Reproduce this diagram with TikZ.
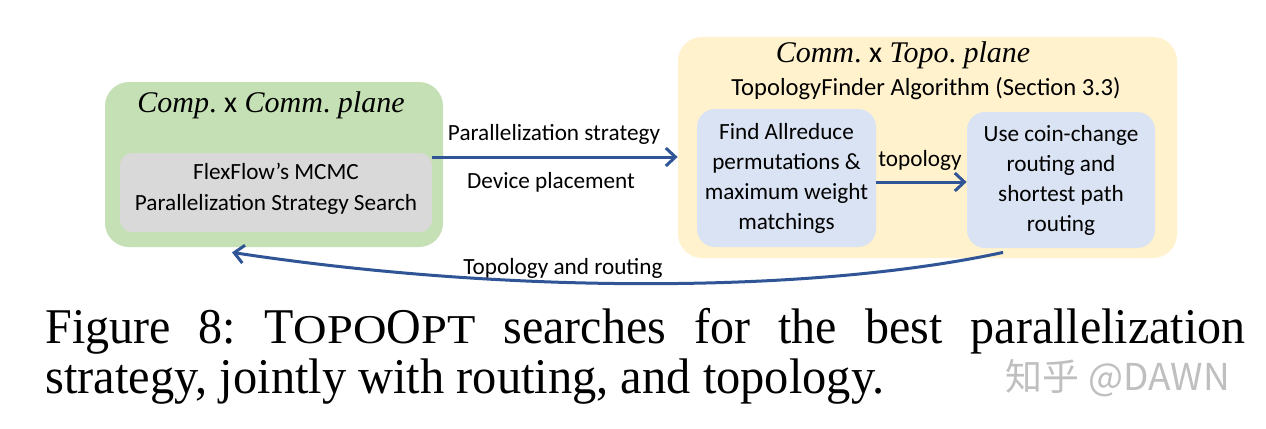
\documentclass[tikz,border=0pt]{standalone}
\usepackage{fontspec}
\setmainfont{Liberation Serif}
\newfontfamily\calib{Carlito}
\newfontfamily\cjkfont{Noto Sans CJK SC}
\usetikzlibrary{arrows.meta,calc}
\definecolor{greenbg}{HTML}{C5E0B4}
\definecolor{graybg}{HTML}{D9D9D9}
\definecolor{yellowbg}{HTML}{FFF2CC}
\definecolor{bluebg}{HTML}{DAE3F3}
\definecolor{arrowblue}{HTML}{2F5597}
\newcommand\fsc[1]{\scalebox{1.18}[1]{\fontsize{20.5pt}{20.5pt}\selectfont #1}}
\frenchspacing
\begin{document}
\begin{tikzpicture}[x=0.5pt,y=-0.5pt,
  plane/.style={draw=none, rounded corners=12pt, inner sep=0pt},
  innerbox/.style={draw=none, rounded corners=9pt, inner sep=0pt, align=center,
    font=\calib\fontsize{11.6}{15}\selectfont},
  arr/.style={draw=arrowblue, line width=1.5pt, -{Straight Barb[length=4.8pt,width=9pt,line width=1.5pt]}},
  lbl/.style={font=\calib\fontsize{11.6}{14}\selectfont, inner sep=0pt},
  ttl/.style={font=\fontsize{15}{17}\selectfont, inner sep=0pt},
  captext/.style={font=\fontsize{25}{25}\selectfont, inner sep=0pt, anchor=base west}]
\useasboundingbox (0,0) rectangle (1266,429);
\fill[white] (0,0) rectangle (1266,429);
% left plane
\node[plane, fill=greenbg, minimum width=169pt, minimum height=82.5pt] (green) at (274,164.5) {};
\node[innerbox, fill=graybg, rounded corners=6pt, minimum width=156pt, minimum height=39.5pt] (gray) at (276,192.5) {};
\node[innerbox, font=\calib\fontsize{11.6}{15.8}\selectfont] (grayt) at (276,189)
  {FlexFlow’s MCMC\\Parallelization Strategy Search};
\node[ttl] (t1) at (271,105) {\itshape Comp\upshape. {\calib x} \itshape Comm\upshape. \itshape plane};
% right plane
\node[plane, fill=yellowbg, minimum width=249.5pt, minimum height=110.5pt] (yellow) at (927.5,147.5) {};
\node[ttl] (t2) at (903,55) {\itshape Comm\upshape. {\calib x} \itshape Topo\upshape. \itshape plane};
\node[lbl, font=\calib\fontsize{12.3}{14}\selectfont] (sub) at (926,89) {TopologyFinder Algorithm (Section 3.3)};
\node[innerbox, fill=bluebg, minimum width=89.5pt, minimum height=69pt] (lb) at (786.5,178)
  {Find Allreduce\\permutations \&\\maximum weight\\matchings};
\node[innerbox, fill=bluebg, minimum width=94pt, minimum height=68pt] (rb) at (1061,180)
  {Use coin-change\\routing and\\shortest path\\routing};
% arrows
\draw[arr] ($(gray.east)+(0,-35.5)$) -- ($(yellow.west)+(0,9.5)$);
\node[lbl] (ps) at (554,134) {Parallelization strategy};
\node[lbl] (dp) at (551,182) {Device placement};
\draw[arr] ($(lb.east)+(0,4)$) -- ($(rb.west)+(0,2)$);
\node[lbl] (topo) at (920,160) {topology};
\coordinate (cs) at ($(rb.south)+(-58,4)$);
\coordinate (ce) at ($(green.south)+(-42,5)$);
\draw[arr] (cs) .. controls (820,292) and (520,296) .. (ce);
\node[lbl] (tr) at (563,268) {Topology and routing};
% caption
\node[captext] (cap1) at (45,343) {\scalebox{0.96}[1]{\makebox[625pt][s]{Figure 8: T\fsc{OPO}O\fsc{PT} searches for the best parallelization}}};
\node[captext] (cap2) at (45,393) {\scalebox{0.969}[1]{strategy, jointly with routing, and topology.}};
% watermark
\node[inner sep=0pt, text=black!25, font=\cjkfont\fontsize{18.5}{18.5}\selectfont] (wm) at (1118,378) {知乎 @DAWN};
\end{tikzpicture}
\end{document}
